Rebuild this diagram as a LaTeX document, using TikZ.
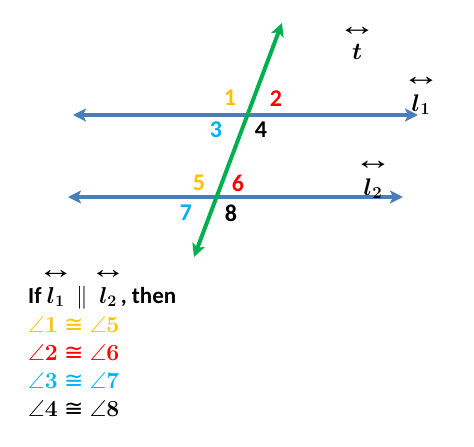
\documentclass[tikz,border=0pt]{standalone}
\usepackage{fix-cm}
\usepackage{amsmath,amssymb,amsbsy}
\usepackage[no-math]{fontspec}
\setmainfont{Carlito}
\newfontfamily\symfont{DejaVu Sans}
\newfontfamily\arrowfont{Liberation Sans}
\usetikzlibrary{arrows.meta}

\definecolor{lineblue}{RGB}{74,126,187}
\definecolor{transgreen}{RGB}{0,176,80}
\definecolor{angyellow}{RGB}{255,192,0}
\definecolor{angred}{RGB}{255,0,0}
\definecolor{angcyan}{RGB}{0,176,240}

\newcommand{\lineof}[1]{\overset{\makebox[0pt]{\raisebox{4pt}{\scalebox{1.6}[1.2]{\arrowfont\mdseries ↔}}}}{#1}}
\newcommand{\congsign}{\mathrel{\text{\symfont\mdseries ≅}}}

\begin{document}
\begin{tikzpicture}[
    x=1pt, y=-1pt,
    every node/.style={inner sep=0pt},
    parline/.style={draw=lineblue, line width=4pt, {Stealth[length=13pt,width=13pt,inset=3pt]}-{Stealth[length=13pt,width=13pt,inset=3pt]}},
    transline/.style={draw=transgreen, line width=4pt, {Stealth[length=13pt,width=13pt,inset=3pt]}-{Stealth[length=13pt,width=13pt,inset=3pt]}},
    anglabel/.style={font=\fontsize{24}{28}\selectfont\bfseries},
    linelabel/.style={font=\fontsize{24}{28}\selectfont},
    ruleline/.style={anchor=base west, font=\fontsize{23}{27}\selectfont\bfseries},
]
\useasboundingbox (0,0) rectangle (474,447);
% lines
\coordinate (l1w) at (73,115);
\coordinate (l1e) at (418,115);
\coordinate (l2w) at (68,197);
\coordinate (l2e) at (403,197);
\coordinate (tn) at (282,23);
\coordinate (ts) at (194,257);
\draw[parline] (l1w) -- (l1e);
\draw[parline] (l2w) -- (l2e);
\draw[transline] (ts) -- (tn);
% line names
\node[linelabel] (tname) at (357,42) {$\lineof{\boldsymbol{t}}$};
\node[linelabel] (l1name) at (421,95) {$\lineof{\boldsymbol{l}_{\mathbf{1}}}$};
\node[linelabel] (l2name) at (373,179) {$\lineof{\boldsymbol{l}_{\mathbf{2}}}$};
% angles
\node[anglabel, text=angyellow] (a1) at (230,98) {1};
\node[anglabel, text=angred] (a2) at (276,99) {2};
\node[anglabel, text=angcyan] (a3) at (216,130) {3};
\node[anglabel] (a4) at (261,130) {4};
\node[anglabel, text=angyellow] (a5) at (199,183) {5};
\node[anglabel, text=angred] (a6) at (238,183) {6};
\node[anglabel, text=angcyan] (a7) at (186,213) {7};
\node[anglabel] (a8) at (231,213) {8};
% statement
\node[ruleline] (r0) at (28,303) {If $\lineof{\boldsymbol{l}_{\mathbf{1}}}\ \parallel\ \lineof{\boldsymbol{l}_{\mathbf{2}}}$\,, then};
\node[ruleline, text=angyellow] (r1) at (28,332) {$\angle\mathbf{1}\congsign\angle\mathbf{5}$};
\node[ruleline, text=angred] (r2) at (28,360) {$\angle\mathbf{2}\congsign\angle\mathbf{6}$};
\node[ruleline, text=angcyan] (r3) at (28,388) {$\angle\mathbf{3}\congsign\angle\mathbf{7}$};
\node[ruleline] (r4) at (28,416) {$\angle\mathbf{4}\congsign\angle\mathbf{8}$};
\end{tikzpicture}
\end{document}
